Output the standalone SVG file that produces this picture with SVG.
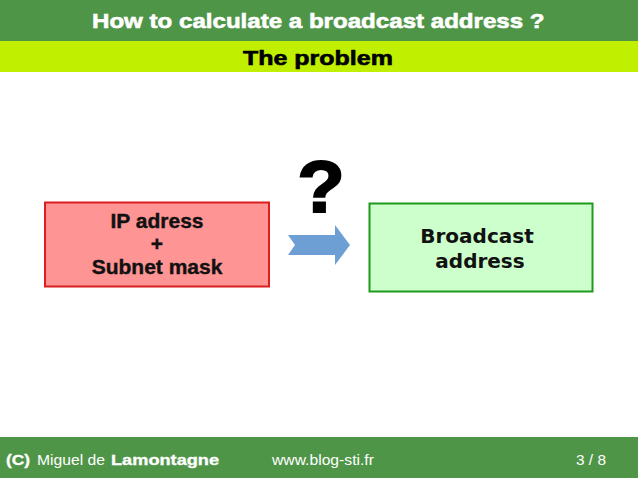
<svg xmlns="http://www.w3.org/2000/svg" width="638" height="478" viewBox="0 0 638 478">
<style>
.b{font-family:"Liberation Sans",Arial,sans-serif;font-weight:bold}
.r{font-family:"Liberation Sans",Arial,sans-serif}
.v{font-family:"DejaVu Sans",Verdana,sans-serif;font-weight:bold}
.hw{fill:#ffffff;stroke:#ffffff;stroke-width:0.6}
.hk{fill:#000000;stroke:#000000;stroke-width:0.6}
.bk{fill:#111111;stroke:#111111;stroke-width:0.4}
</style>
<rect x="0" y="0" width="638" height="478" fill="#ffffff"/>
<g id="header">
<rect x="0" y="0" width="638" height="41" fill="#4f9548"/>
<rect x="0" y="41" width="638" height="31" fill="#c0f000"/>
<text class="b hw" transform="translate(92,28) scale(1.148,1)" x="0" y="0" font-size="21">How to calculate a broadcast address ?</text>
<text class="b hk" transform="translate(243,65) scale(1.25,1)" x="0" y="0" font-size="20">The problem</text>
</g>
<g id="source">
<rect x="45" y="202.5" width="224" height="84" fill="#ff9494" stroke="#dc1e1e" stroke-width="2"/>
<text class="b bk" x="157" y="228" font-size="21" text-anchor="middle">IP adress</text>
<text class="b bk" x="157" y="251" font-size="21" text-anchor="middle">+</text>
<text class="b bk" x="157" y="274" font-size="21" text-anchor="middle">Subnet mask</text>
</g>
<g id="target">
<rect x="369.5" y="203.5" width="223" height="88" fill="#ccffcc" stroke="#1e9a1e" stroke-width="2"/>
<text class="v" x="477" y="243" font-size="20" text-anchor="middle" fill="#111">Broadcast</text>
<text class="v" x="480" y="268" font-size="20" text-anchor="middle" fill="#111">address</text>
</g>
<g id="connectors">
<polygon points="288,235 335,235 335,225 350,245 335,265 335,255 288,255 295,245" fill="#6e9fd4"/>
<text class="b" transform="translate(321,212) scale(1.08,1)" x="0" y="0" font-size="72" text-anchor="middle" fill="#000" stroke="#000" stroke-width="2">?</text>
</g>
<g id="footer">
<rect x="0" y="437" width="638" height="41" fill="#4f9548"/>
<text class="b hw" transform="translate(6,465) scale(1.24,1)" font-size="14" style="stroke-width:0.3">(C)</text>
<text class="r" transform="translate(37,465) scale(1.12,1)" font-size="14" fill="#ffffff">Miguel de</text>
<text class="b hw" transform="translate(111,465) scale(1.3,1)" font-size="14" style="stroke-width:0.3">Lamontagne</text>
<text class="r" transform="translate(272,465) scale(1.12,1)" font-size="14" fill="#ffffff">www.blog-sti.fr</text>
<text class="r" transform="translate(576,465) scale(1.1,1)" font-size="14" fill="#ffffff">3 / 8</text>
</g>
</svg>
